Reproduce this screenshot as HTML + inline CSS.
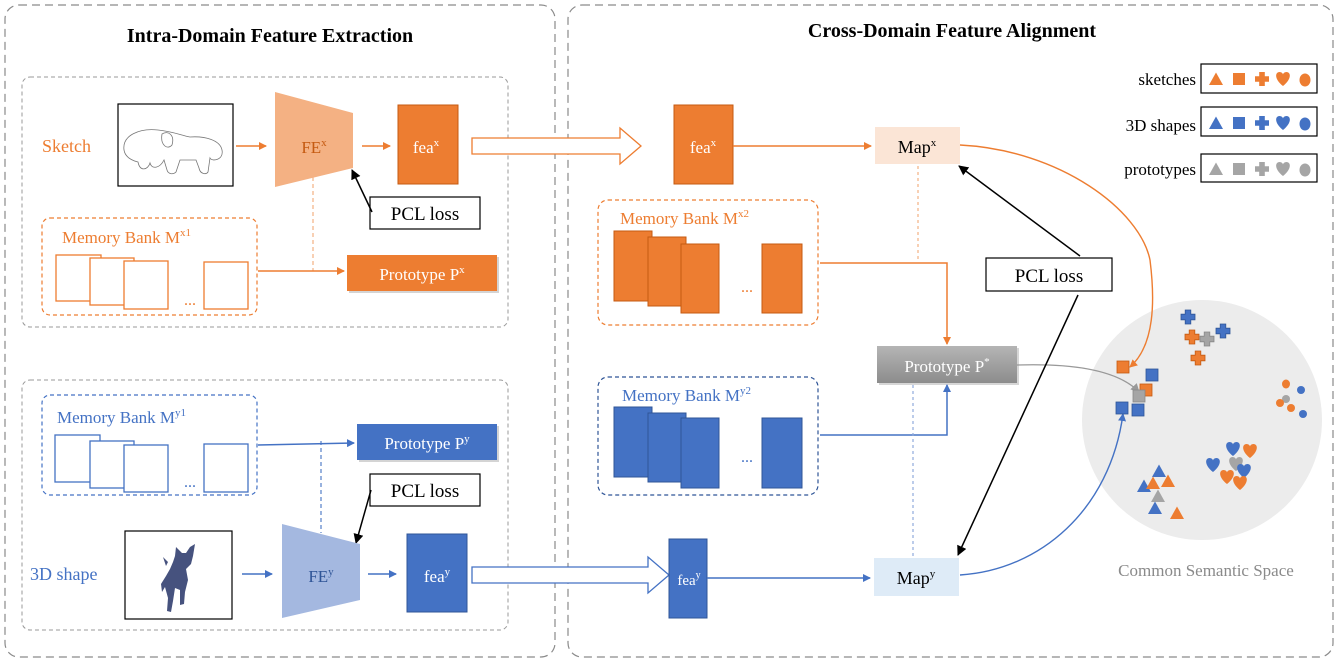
<!DOCTYPE html>
<html><head><meta charset="utf-8"><style>
html,body{margin:0;padding:0;background:#fff}
svg{display:block}
text{font-family:"Liberation Serif",serif}
</style></head><body>
<svg width="1339" height="662" viewBox="0 0 1339 662" xmlns="http://www.w3.org/2000/svg">
<defs>
<marker id="ao" markerWidth="8" markerHeight="8" refX="7" refY="4" orient="auto" markerUnits="userSpaceOnUse"><path d="M0,0 L8,4 L0,8Z" fill="#ED7D31"/></marker>
<marker id="ab" markerWidth="8" markerHeight="8" refX="7" refY="4" orient="auto" markerUnits="userSpaceOnUse"><path d="M0,0 L8,4 L0,8Z" fill="#4472C4"/></marker>
<marker id="ak" markerWidth="10" markerHeight="10" refX="9" refY="5" orient="auto" markerUnits="userSpaceOnUse"><path d="M0,0 L10,5 L0,10Z" fill="#000"/></marker>
<marker id="ag" markerWidth="9" markerHeight="9" refX="8" refY="4.5" orient="auto" markerUnits="userSpaceOnUse"><path d="M0,0 L9,4.5 L0,9Z" fill="#999"/></marker>
<linearGradient id="gg" x1="0" y1="0" x2="0" y2="1"><stop offset="0" stop-color="#b5b5b5"/><stop offset="1" stop-color="#8c8c8c"/></linearGradient>
<g id="tri"><path d="M0,-6.5 L7,6 L-7,6Z"/></g>
<g id="sq"><rect x="-6" y="-6" width="12" height="12"/></g>
<g id="cr"><path d="M-2.8,-7 h5.6 v4.2 h4.2 v5.6 h-4.2 v4.2 h-5.6 v-4.2 h-4.2 v-5.6 h4.2z"/></g>
<g id="ht"><path d="M0,7 C-9,0 -8,-7 -3.5,-7 C-1.5,-7 0,-5.5 0,-4.5 C0,-5.5 1.5,-7 3.5,-7 C8,-7 9,0 0,7Z"/></g>
<g id="ci"><ellipse cx="0" cy="0" rx="5.5" ry="6.5"/></g>
</defs>

<rect x="5" y="5" width="550" height="652" rx="14" fill="none" stroke="#8a8a8a" stroke-width="1.2" stroke-dasharray="8,5"/>
<rect x="568" y="5" width="765" height="652" rx="14" fill="none" stroke="#8a8a8a" stroke-width="1.2" stroke-dasharray="8,5"/>
<text x="270" y="42" font-size="20" font-weight="bold" text-anchor="middle">Intra-Domain Feature Extraction</text>
<text x="952" y="37" font-size="20" font-weight="bold" text-anchor="middle">Cross-Domain Feature Alignment</text>

<rect x="22" y="77" width="486" height="250" rx="8" fill="none" stroke="#999" stroke-dasharray="4,3"/>
<rect x="22" y="380" width="486" height="250" rx="8" fill="none" stroke="#999" stroke-dasharray="4,3"/>

<text x="42" y="152" font-size="18" fill="#ED7D31">Sketch</text>
<rect x="118" y="104" width="115" height="82" fill="#fff" stroke="#000" stroke-width="1.2"/>
<path d="M124,150 C122,135 140,128 158,130 C175,132 180,135 190,137 C205,136 220,140 222,150 C224,160 212,162 210,158 L208,172 C206,175 200,174 199,168 L196,160 L180,160 L176,172 C173,175 168,174 167,170 L164,160 C160,168 152,170 150,163 C148,170 140,172 138,162 C130,160 125,156 124,150Z M162,134 C168,130 175,135 172,145 C168,150 160,146 162,134Z" fill="none" stroke="#777" stroke-width="0.8"/>
<line x1="236" y1="146" x2="266" y2="146" stroke="#ED7D31" stroke-width="1.5" marker-end="url(#ao)"/>
<polygon points="275,92 353,113 353,168 275,187" fill="#F4B183"/>
<text x="314" y="153" font-size="17" fill="#C55A11" text-anchor="middle">FE<tspan font-size="11" dy="-7">x</tspan></text>
<line x1="362" y1="146" x2="390" y2="146" stroke="#ED7D31" stroke-width="1.5" marker-end="url(#ao)"/>
<rect x="398" y="105" width="60" height="79" fill="#ED7D31" stroke="#C55A11"/>
<text x="426" y="153" font-size="17" fill="#fff" text-anchor="middle">fea<tspan font-size="11" dy="-7">x</tspan></text>
<path d="M472,138 L620,138 L620,128 L641,146 L620,164 L620,154 L472,154Z" fill="#fff" stroke="#ED7D31" stroke-width="1.3"/>
<rect x="370" y="197" width="110" height="32" fill="#fff" stroke="#000" stroke-width="1.2"/>
<text x="425" y="220" font-size="19" text-anchor="middle">PCL loss</text>
<line x1="372" y1="212" x2="352" y2="170" stroke="#000" stroke-width="1.5" marker-end="url(#ak)"/>
<rect x="42" y="218" width="215" height="97" rx="8" fill="none" stroke="#ED7D31" stroke-width="1.2" stroke-dasharray="4,3"/>
<text x="62" y="243" font-size="17" fill="#ED7D31">Memory Bank M<tspan font-size="11" dy="-7">x1</tspan></text>
<g fill="#fff" stroke="#ED7D31" stroke-width="1.3">
<rect x="56" y="255" width="45" height="46"/><rect x="90" y="258" width="44" height="47"/><rect x="124" y="261" width="44" height="48"/><rect x="204" y="262" width="44" height="47"/>
</g>
<text x="184" y="305" font-size="16" fill="#ED7D31">...</text>
<line x1="313" y1="177" x2="313" y2="271" stroke="#F4B183" stroke-width="1.2" stroke-dasharray="4,3"/>
<line x1="258" y1="271" x2="344" y2="271" stroke="#ED7D31" stroke-width="1.5" marker-end="url(#ao)"/>
<rect x="349" y="257" width="150" height="36" fill="#aaa" opacity="0.5"/>
<rect x="347" y="255" width="150" height="36" fill="#ED7D31"/>
<text x="422" y="280" font-size="17" fill="#fff" text-anchor="middle">Prototype P<tspan font-size="11" dy="-7">x</tspan></text>

<rect x="42" y="395" width="215" height="100" rx="8" fill="none" stroke="#4472C4" stroke-width="1.2" stroke-dasharray="4,3"/>
<text x="57" y="423" font-size="17" fill="#4472C4">Memory Bank M<tspan font-size="11" dy="-7">y1</tspan></text>
<g fill="#fff" stroke="#4472C4" stroke-width="1.3">
<rect x="55" y="435" width="45" height="47"/><rect x="90" y="441" width="44" height="47"/><rect x="124" y="445" width="44" height="47"/><rect x="204" y="444" width="44" height="48"/>
</g>
<text x="184" y="487" font-size="16" fill="#4472C4">...</text>
<line x1="321" y1="441" x2="321" y2="533" stroke="#4472C4" stroke-width="1.1" stroke-dasharray="4,3"/>
<line x1="258" y1="445" x2="354" y2="443" stroke="#4472C4" stroke-width="1.5" marker-end="url(#ab)"/>
<rect x="359" y="426" width="140" height="36" fill="#aaa" opacity="0.5"/>
<rect x="357" y="424" width="140" height="36" fill="#4472C4"/>
<text x="427" y="449" font-size="17" fill="#fff" text-anchor="middle">Prototype P<tspan font-size="11" dy="-7">y</tspan></text>
<rect x="370" y="474" width="110" height="32" fill="#fff" stroke="#000" stroke-width="1.2"/>
<text x="425" y="497" font-size="19" text-anchor="middle">PCL loss</text>
<line x1="371" y1="490" x2="356" y2="543" stroke="#000" stroke-width="1.5" marker-end="url(#ak)"/>
<text x="30" y="580" font-size="18" fill="#4472C4">3D shape</text>
<rect x="125" y="531" width="107" height="88" fill="#fff" stroke="#000" stroke-width="1.2"/>
<path d="M176,547 L182,553 L186,553 L190,547 L195,544 L193,556 L191,564 L186,569 L188,580 L185,592 L184,604 L180,605 L180,590 L175,588 L173,601 L171,612 L167,611 L168,598 L165,587 L162,592 L161,584 L166,576 L170,569 L173,562 L175,556Z M168,562 L163,557 L166,566Z" fill="#46527e"/>
<line x1="242" y1="574" x2="272" y2="574" stroke="#4472C4" stroke-width="1.5" marker-end="url(#ab)"/>
<polygon points="282,524 360,544 360,600 282,618" fill="#A4B8E0"/>
<text x="321" y="582" font-size="17" fill="#2F5597" text-anchor="middle">FE<tspan font-size="11" dy="-7">y</tspan></text>
<line x1="368" y1="574" x2="396" y2="574" stroke="#4472C4" stroke-width="1.5" marker-end="url(#ab)"/>
<rect x="407" y="534" width="60" height="78" fill="#4472C4" stroke="#2F5597"/>
<text x="437" y="582" font-size="17" fill="#fff" text-anchor="middle">fea<tspan font-size="11" dy="-7">y</tspan></text>
<path d="M472,567 L648,567 L648,557 L669,575 L648,593 L648,583 L472,583Z" fill="#fff" stroke="#4472C4" stroke-width="1.3"/>

<!-- common semantic space (drawn before connectors) -->
<circle cx="1202" cy="420" r="120" fill="#ECECEC"/>
<text x="1206" y="576" font-size="17" fill="#8a8a8a" text-anchor="middle">Common Semantic Space</text>

<rect x="674" y="105" width="59" height="79" fill="#ED7D31" stroke="#C55A11"/>
<text x="703" y="153" font-size="17" fill="#fff" text-anchor="middle">fea<tspan font-size="11" dy="-7">x</tspan></text>
<line x1="733" y1="146" x2="871" y2="146" stroke="#ED7D31" stroke-width="1.5" marker-end="url(#ao)"/>
<rect x="875" y="127" width="85" height="37" fill="#FBE5D6"/>
<text x="917" y="153" font-size="18" text-anchor="middle">Map<tspan font-size="11" dy="-7">x</tspan></text>
<line x1="918" y1="166" x2="918" y2="262" stroke="#F4B183" stroke-width="1.2" stroke-dasharray="3,3"/>
<rect x="598" y="200" width="220" height="125" rx="10" fill="none" stroke="#ED7D31" stroke-width="1.2" stroke-dasharray="4,3"/>
<text x="620" y="224" font-size="17" fill="#ED7D31">Memory Bank M<tspan font-size="11" dy="-7">x2</tspan></text>
<g fill="#ED7D31" stroke="#C55A11" stroke-width="1">
<rect x="614" y="231" width="38" height="70"/><rect x="648" y="237" width="38" height="69"/><rect x="681" y="244" width="38" height="69"/><rect x="762" y="244" width="40" height="69"/>
</g>
<text x="741" y="292" font-size="16" fill="#ED7D31">...</text>
<polyline points="820,263 947,263 947,344" fill="none" stroke="#ED7D31" stroke-width="1.5" marker-end="url(#ao)"/>
<rect x="879" y="348" width="140" height="37" fill="#999" opacity="0.4"/>
<rect x="877" y="346" width="140" height="37" fill="url(#gg)"/>
<text x="947" y="372" font-size="17" fill="#fff" text-anchor="middle">Prototype P<tspan font-size="11" dy="-7">*</tspan></text>
<path d="M1017,365 C1080,363 1120,372 1139,392" fill="none" stroke="#999" stroke-width="1.3" marker-end="url(#ag)"/>
<rect x="598" y="377" width="220" height="118" rx="10" fill="none" stroke="#2F5597" stroke-width="1.2" stroke-dasharray="4,3"/>
<text x="622" y="401" font-size="17" fill="#4472C4">Memory Bank M<tspan font-size="11" dy="-7">y2</tspan></text>
<g fill="#4472C4" stroke="#2F5597" stroke-width="1">
<rect x="614" y="407" width="38" height="70"/><rect x="648" y="413" width="38" height="69"/><rect x="681" y="418" width="38" height="70"/><rect x="762" y="418" width="40" height="70"/>
</g>
<text x="741" y="462" font-size="16" fill="#4472C4">...</text>
<polyline points="820,435 947,435 947,385" fill="none" stroke="#4472C4" stroke-width="1.5" marker-end="url(#ab)"/>
<line x1="913" y1="385" x2="913" y2="556" stroke="#8FAADC" stroke-width="1.2" stroke-dasharray="3,3"/>
<rect x="669" y="539" width="38" height="79" fill="#4472C4" stroke="#2F5597"/>
<text x="689" y="585" font-size="15" fill="#fff" text-anchor="middle">fea<tspan font-size="10" dy="-7">y</tspan></text>
<line x1="707" y1="578" x2="870" y2="578" stroke="#4472C4" stroke-width="1.5" marker-end="url(#ab)"/>
<rect x="874" y="558" width="85" height="38" fill="#DEEBF7"/>
<text x="916" y="584" font-size="18" text-anchor="middle">Map<tspan font-size="11" dy="-7">y</tspan></text>
<rect x="986" y="258" width="126" height="33" fill="#fff" stroke="#000" stroke-width="1.2"/>
<text x="1049" y="282" font-size="19" text-anchor="middle">PCL loss</text>
<line x1="1080" y1="256" x2="959" y2="166" stroke="#000" stroke-width="1.5" marker-end="url(#ak)"/>
<line x1="1078" y1="295" x2="958" y2="555" stroke="#000" stroke-width="1.5" marker-end="url(#ak)"/>
<path d="M960,145 C1060,150 1140,210 1150,260 C1155,300 1155,345 1130,367" fill="none" stroke="#ED7D31" stroke-width="1.4" marker-end="url(#ao)"/>
<path d="M960,575 C1040,570 1110,510 1123,414" fill="none" stroke="#4472C4" stroke-width="1.4" marker-end="url(#ab)"/>

<g stroke-width="0.8">
<use href="#cr" x="1188" y="317" fill="#4472C4" stroke="#2F5597"/>
<use href="#cr" x="1192" y="337" fill="#ED7D31" stroke="#C55A11"/>
<use href="#cr" x="1207" y="339" fill="#A5A5A5" stroke="#888"/>
<use href="#cr" x="1223" y="331" fill="#4472C4" stroke="#2F5597"/>
<use href="#cr" x="1198" y="358" fill="#ED7D31" stroke="#C55A11"/>
<use href="#sq" x="1123" y="367" fill="#ED7D31" stroke="#C55A11"/>
<use href="#sq" x="1152" y="375" fill="#4472C4" stroke="#2F5597"/>
<use href="#sq" x="1146" y="390" fill="#ED7D31" stroke="#C55A11"/>
<use href="#sq" x="1139" y="396" fill="#A5A5A5" stroke="#888"/>
<use href="#sq" x="1122" y="408" fill="#4472C4" stroke="#2F5597"/>
<use href="#sq" x="1138" y="410" fill="#4472C4" stroke="#2F5597"/>
<ellipse cx="1286" cy="384" rx="4" ry="4.5" fill="#ED7D31"/>
<ellipse cx="1301" cy="390" rx="4" ry="4" fill="#4472C4"/>
<ellipse cx="1286" cy="399" rx="4" ry="4" fill="#A5A5A5"/>
<ellipse cx="1280" cy="403" rx="4" ry="4" fill="#ED7D31"/>
<ellipse cx="1291" cy="408" rx="4" ry="4" fill="#ED7D31"/>
<ellipse cx="1303" cy="414" rx="4" ry="4" fill="#4472C4"/>
<use href="#ht" x="1233" y="449" fill="#4472C4"/>
<use href="#ht" x="1250" y="451" fill="#ED7D31"/>
<use href="#ht" x="1213" y="465" fill="#4472C4"/>
<use href="#ht" x="1236" y="464" fill="#A5A5A5"/>
<use href="#ht" x="1244" y="471" fill="#4472C4"/>
<use href="#ht" x="1227" y="477" fill="#ED7D31"/>
<use href="#ht" x="1240" y="483" fill="#ED7D31"/>
<use href="#tri" x="1159" y="471" fill="#4472C4"/>
<use href="#tri" x="1144" y="486" fill="#4472C4"/>
<use href="#tri" x="1153" y="483" fill="#ED7D31"/>
<use href="#tri" x="1168" y="481" fill="#ED7D31"/>
<use href="#tri" x="1158" y="496" fill="#A5A5A5"/>
<use href="#tri" x="1155" y="508" fill="#4472C4"/>
<use href="#tri" x="1177" y="513" fill="#ED7D31"/>
</g>

<text x="1196" y="85" font-size="17" text-anchor="end">sketches</text>
<rect x="1201" y="64" width="116" height="29" fill="#fff" stroke="#000" stroke-width="1.2"/>
<g fill="#ED7D31"><use href="#tri" x="1216" y="79"/><use href="#sq" x="1239" y="79"/><use href="#cr" x="1262" y="79"/><use href="#ht" x="1283" y="79"/><use href="#ci" x="1305" y="80"/></g>
<text x="1196" y="131" font-size="17" text-anchor="end">3D shapes</text>
<rect x="1201" y="107" width="116" height="29" fill="#fff" stroke="#000" stroke-width="1.2"/>
<g fill="#4472C4"><use href="#tri" x="1216" y="123"/><use href="#sq" x="1239" y="123"/><use href="#cr" x="1262" y="123"/><use href="#ht" x="1283" y="123"/><use href="#ci" x="1305" y="124"/></g>
<text x="1196" y="175" font-size="17" text-anchor="end">prototypes</text>
<rect x="1201" y="154" width="116" height="28" fill="#fff" stroke="#000" stroke-width="1.2"/>
<g fill="#A5A5A5"><use href="#tri" x="1216" y="169"/><use href="#sq" x="1239" y="169"/><use href="#cr" x="1262" y="169"/><use href="#ht" x="1283" y="169"/><use href="#ci" x="1305" y="170"/></g>
</svg>
</body></html>
